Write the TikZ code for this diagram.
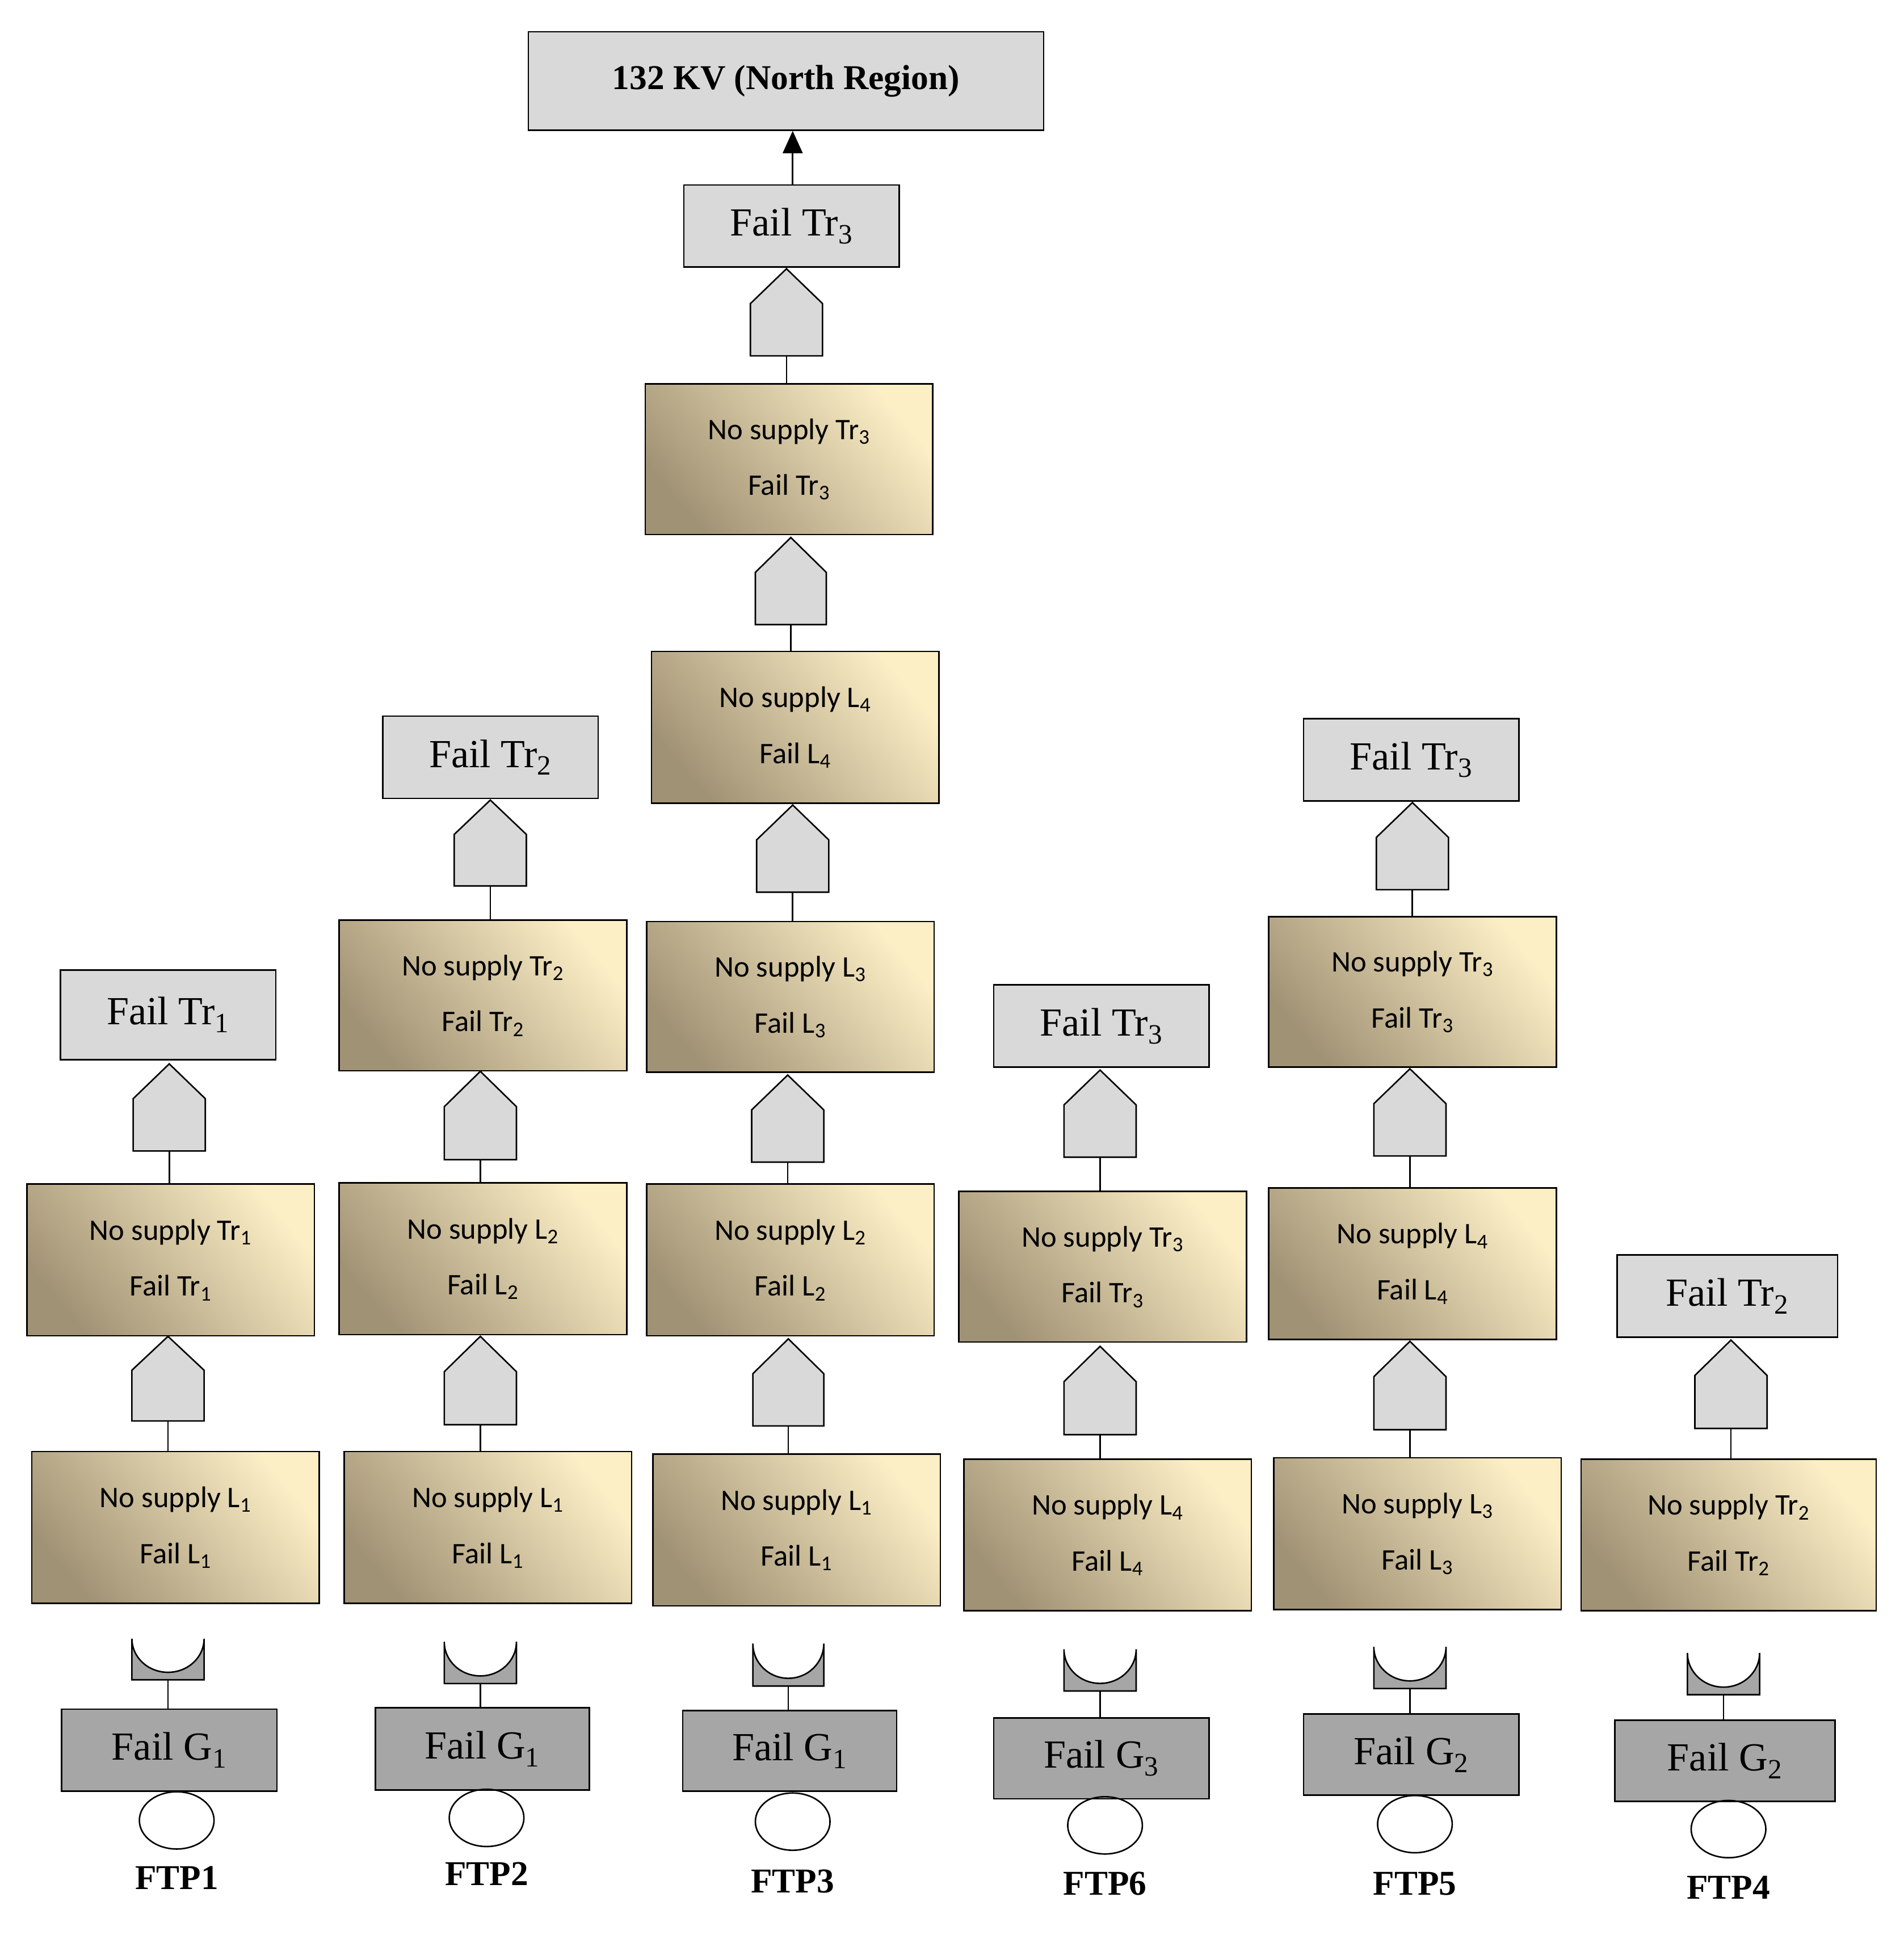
\documentclass[tikz,border=0pt]{standalone}
\usepackage{fontspec}
\setmainfont{Liberation Serif}
\newfontfamily\goldfont{Carlito}
\usetikzlibrary{arrows.meta,shapes.geometric}
\definecolor{gdark}{HTML}{A09274}
\definecolor{glight}{HTML}{FCEEC5}
\definecolor{lgray}{HTML}{D9D9D9}
\definecolor{dgray}{HTML}{A6A6A6}
\tikzset{
 goldbox/.style={draw,line width=1.2pt,shading=axis,top color=glight,bottom color=gdark,shading angle=-50,align=center,font=\goldfont\fontsize{24}{45}\selectfont},
 failbox/.style={draw,line width=1.2pt,fill=lgray,font=\fontsize{32}{36}\selectfont},
 gbox/.style={draw,line width=1.2pt,fill=dgray,font=\fontsize{32}{36}\selectfont},
 gate/.style={draw,line width=1.2pt},
 conn/.style={line width=1.2pt},
}
\newcommand\bx[7]{\node[#6,minimum width={#4-#2},minimum height={#5-#3},inner sep=0pt,anchor=north west] (#1) at (#2,#3) {#7};}
\newcommand\house[5]{%
 \filldraw[gate,fill=lgray] (#2,#5) -- (#2,{#3+0.4*(#5-#3)}) -- ({(#2+#4)/2},#3) -- (#4,{#3+0.4*(#5-#3)}) -- (#4,#5) -- cycle;
 \coordinate (#1) at ({(#2+#4)/2},#5);}
\newcommand\andg[5]{%
 \filldraw[gate,fill=dgray] (#2,#5) -- (#2,{#3+0.45*(#5-#3)}) arc[start angle=180,end angle=0,x radius={(#4-#2)/2},y radius={0.45*(#5-#3)}] -- (#4,#5) -- cycle;
 \coordinate (#1) at ({(#2+#4)/2},#5);}
\newcommand\ftp[5]{%
 \node[draw,line width=1.2pt,ellipse,minimum width=60pt,minimum height=46pt,inner sep=0pt] (#1) at (#2,#3) {};
 \node[font=\bfseries\fontsize{28}{30}\selectfont] (#1l) at (#2,#5) {#4};}
\newcommand\gold[7]{\bx{#1}{#2}{#3}{#4}{#5}{goldbox}{No supply #6\\#7}}
\newcommand\s[1]{\textsubscript{#1}}
\begin{document}
\begin{tikzpicture}[x=1pt,y=-1pt]
\useasboundingbox (0,0) rectangle (1530,1572);
\bx{top}{424}{25}{838}{104}{failbox}{\fontsize{28}{30}\selectfont\bfseries 132 KV (North Region)}
\bx{c3f}{549}{148}{722}{214}{failbox}{Fail Tr\s3}
\draw[conn,-{Triangle[length=18pt,width=16pt]}] (c3f.north -| 637,0) -- (top.south -| 637,0);
\house{c3h1}{603}{216}{661}{286}
\gold{c3a}{518}{308}{749}{429}{Tr\s3}{Fail Tr\s3}
\draw[conn] (c3h1) -- (c3h1 |- c3a.north);
\house{c3h2}{607}{432}{664}{502}
\gold{c3b}{523}{523}{754}{645}{L\s4}{Fail L\s4}
\draw[conn] (c3h2) -- (c3h2 |- c3b.north);
\house{c3h3}{608}{647}{666}{717}
\gold{c3c}{519}{740}{750}{861}{L\s3}{Fail L\s3}
\draw[conn] (c3h3) -- (c3h3 |- c3c.north);
\house{c3h4}{604}{864}{662}{934}
\gold{c3d}{519}{951}{750}{1073}{L\s2}{Fail L\s2}
\draw[conn] (c3h4) -- (c3h4 |- c3d.north);
\house{c3h5}{605}{1076}{662}{1146}
\gold{c3e}{524}{1168}{755}{1290}{L\s1}{Fail L\s1}
\draw[conn] (c3h5) -- (c3h5 |- c3e.north);
\andg{c3g}{605}{1293}{662}{1355}
\bx{c3G}{548}{1374}{720}{1439}{gbox}{Fail G\s1}
\draw[conn] (c3g) -- (c3g |- c3G.north);
\ftp{c3o}{637}{1464}{FTP3}{1512}
\bx{c1f}{48}{779}{221}{851}{failbox}{Fail Tr\s1}
\house{c1h1}{107}{855}{165}{925}
\gold{c1a}{21}{951}{252}{1073}{Tr\s1}{Fail Tr\s1}
\draw[conn] (c1h1) -- (c1h1 |- c1a.north);
\house{c1h2}{106}{1074}{164}{1142}
\gold{c1b}{25}{1166}{256}{1288}{L\s1}{Fail L\s1}
\draw[conn] (c1h2) -- (c1h2 |- c1b.north);
\andg{c1g}{106}{1290}{164}{1350}
\bx{c1G}{49}{1373}{222}{1439}{gbox}{Fail G\s1}
\draw[conn] (c1g) -- (c1g |- c1G.north);
\ftp{c1o}{142}{1463}{FTP1}{1509}
\bx{c2f}{307}{575}{480}{641}{failbox}{Fail Tr\s2}
\house{c2h1}{365}{643}{423}{712}
\gold{c2a}{272}{739}{503}{860}{Tr\s2}{Fail Tr\s2}
\draw[conn] (c2h1) -- (c2h1 |- c2a.north);
\house{c2h2}{357}{861}{415}{932}
\gold{c2b}{272}{950}{503}{1072}{L\s2}{Fail L\s2}
\draw[conn] (c2h2) -- (c2h2 |- c2b.north);
\house{c2h3}{357}{1074}{415}{1145}
\gold{c2c}{276}{1166}{507}{1288}{L\s1}{Fail L\s1}
\draw[conn] (c2h3) -- (c2h3 |- c2c.north);
\andg{c2g}{357}{1292}{415}{1353}
\bx{c2G}{301}{1372}{473}{1438}{gbox}{Fail G\s1}
\draw[conn] (c2g) -- (c2g |- c2G.north);
\ftp{c2o}{391}{1461}{FTP2}{1506}
\bx{c6f}{798}{791}{971}{857}{failbox}{Fail Tr\s3}
\house{c6h1}{855}{860}{913}{930}
\gold{c6a}{770}{957}{1001}{1078}{Tr\s3}{Fail Tr\s3}
\draw[conn] (c6h1) -- (c6h1 |- c6a.north);
\house{c6h2}{855}{1082}{913}{1153}
\gold{c6b}{774}{1172}{1005}{1294}{L\s4}{Fail L\s4}
\draw[conn] (c6h2) -- (c6h2 |- c6b.north);
\andg{c6g}{855}{1298}{913}{1359}
\bx{c6G}{798}{1380}{971}{1445}{gbox}{Fail G\s3}
\draw[conn] (c6g) -- (c6g |- c6G.north);
\ftp{c6o}{888}{1467}{FTP6}{1514}
\bx{c5f}{1047}{577}{1220}{643}{failbox}{Fail Tr\s3}
\house{c5h1}{1106}{645}{1164}{715}
\gold{c5a}{1019}{736}{1250}{857}{Tr\s3}{Fail Tr\s3}
\draw[conn] (c5h1) -- (c5h1 |- c5a.north);
\house{c5h2}{1104}{859}{1162}{929}
\gold{c5b}{1019}{954}{1250}{1076}{L\s4}{Fail L\s4}
\draw[conn] (c5h2) -- (c5h2 |- c5b.north);
\house{c5h3}{1104}{1078}{1162}{1149}
\gold{c5c}{1023}{1171}{1254}{1293}{L\s3}{Fail L\s3}
\draw[conn] (c5h3) -- (c5h3 |- c5c.north);
\andg{c5g}{1104}{1296}{1162}{1357}
\bx{c5G}{1047}{1377}{1220}{1442}{gbox}{Fail G\s2}
\draw[conn] (c5g) -- (c5g |- c5G.north);
\ftp{c5o}{1137}{1466}{FTP5}{1514}
\bx{c4f}{1299}{1008}{1476}{1074}{failbox}{Fail Tr\s2}
\house{c4h1}{1362}{1077}{1420}{1148}
\gold{c4a}{1270}{1172}{1507}{1294}{Tr\s2}{Fail Tr\s2}
\draw[conn] (c4h1) -- (c4h1 |- c4a.north);
\andg{c4g}{1356}{1301}{1414}{1362}
\bx{c4G}{1297}{1382}{1474}{1447}{gbox}{Fail G\s2}
\draw[conn] (c4g) -- (c4g |- c4G.north);
\ftp{c4o}{1389}{1470}{FTP4}{1517}
\end{tikzpicture}
\end{document}
